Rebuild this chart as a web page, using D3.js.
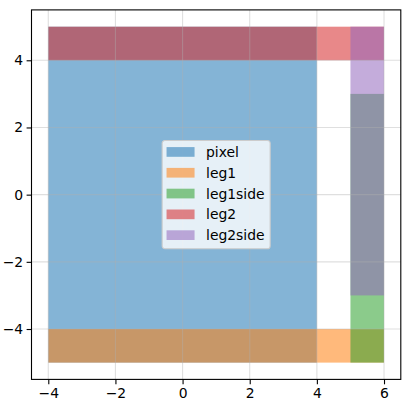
<!DOCTYPE html>
<html>
<head>
<meta charset="utf-8">
<script src="https://cdn.jsdelivr.net/npm/d3@7"></script>
<style>
  body { margin: 0; background: #fff; }
  text { font-family: "DejaVu Sans", sans-serif; }
</style>
</head>
<body>
<div id="chart"></div>
<script>
// rectangles, in data units
var labels = ["pixel", "leg1", "leg1side", "leg2", "leg2side"];
var x0s = [-4, -4, 5, -4, 5];
var x1s = [4, 6, 6, 6, 6];
var y0s = [-5, -5, -5, 4, -3];
var y1s = [5, -4, 3, 5, 5];
var colors = ["#1f77b4", "#ff7f0e", "#2ca02c", "#d62728", "#9467bd"];
var xTicks = [-4, -2, 0, 2, 4, 6];
var yTicks = [-4, -2, 0, 2, 4];

var w = 416, h = 410;
// plot area edges (window.top is reserved, so no bare "top")
var axLeft = 31.5, axRight = 400.8, axTop = 9.9, axBottom = 379.4;
var alpha = 0.55;

var svg = d3.select("#chart").append("svg")
    .attr("width", w)
    .attr("height", h);

var xScale = d3.scaleLinear().domain([-4.5, 6.5]).range([axLeft, axRight]);
var yScale = d3.scaleLinear().domain([-5.5, 5.5]).range([axBottom, axTop]);

var rects = labels.map(function(d, i) {
    return {label: d, x0: x0s[i], x1: x1s[i], y0: y0s[i], y1: y1s[i], color: colors[i]};
});

// patches
svg.append("g")
    .selectAll("rect")
    .data(rects)
    .enter()
    .append("rect")
    .attr("x", function(d) { return xScale(d.x0); })
    .attr("y", function(d) { return yScale(d.y1); })
    .attr("width", function(d) { return xScale(d.x1) - xScale(d.x0); })
    .attr("height", function(d) { return yScale(d.y0) - yScale(d.y1); })
    .attr("fill", function(d) { return d.color; })
    .attr("fill-opacity", alpha);

// grid sits above the patches (matplotlib default)
var fmt = function(d) { return d < 0 ? "\u2212" + Math.abs(d) : String(d); };

var xAxis = d3.axisBottom(xScale).tickValues(xTicks).tickSize(4.9).tickPadding(3.5).tickFormat(fmt);
var yAxis = d3.axisLeft(yScale).tickValues(yTicks).tickSize(4.9).tickPadding(3.5).tickFormat(fmt);

svg.append("g")
    .selectAll("line")
    .data(xTicks)
    .enter()
    .append("line")
    .attr("x1", xScale).attr("x2", xScale)
    .attr("y1", axTop).attr("y2", axBottom)
    .attr("stroke", "#b0b0b0").attr("stroke-opacity", 0.4).attr("stroke-width", 1.1);

svg.append("g")
    .selectAll("line")
    .data(yTicks)
    .enter()
    .append("line")
    .attr("y1", yScale).attr("y2", yScale)
    .attr("x1", axLeft).attr("x2", axRight)
    .attr("stroke", "#b0b0b0").attr("stroke-opacity", 0.4).attr("stroke-width", 1.1);

var gx = svg.append("g")
    .attr("transform", "translate(0," + axBottom + ")")
    .call(xAxis);
var gy = svg.append("g")
    .attr("transform", "translate(" + axLeft + ",0)")
    .call(yAxis);

[gx, gy].forEach(function(g) {
    g.select(".domain").remove();
    g.selectAll(".tick line").attr("stroke", "#000").attr("stroke-width", 1.1);
    g.selectAll(".tick text")
        .attr("fill", "#000")
        .attr("font-size", "13.9px")
        .attr("font-family", "DejaVu Sans, sans-serif");
});

// spines
svg.append("rect")
    .attr("x", axLeft).attr("y", axTop)
    .attr("width", axRight - axLeft).attr("height", axBottom - axTop)
    .attr("fill", "none").attr("stroke", "#000").attr("stroke-width", 1.1);

// legend, centred in the axes
var legW = 108, legH = 108.3, rowH = 20.8;
var cx = (axLeft + axRight) / 2, cy = (axTop + axBottom) / 2;
var legend = svg.append("g")
    .attr("transform", "translate(" + (cx - legW / 2) + "," + (cy - legH / 2) + ")");

legend.append("rect")
    .attr("width", legW).attr("height", legH)
    .attr("rx", 2.8).attr("ry", 2.8)
    .attr("fill", "#fff").attr("fill-opacity", 0.8)
    .attr("stroke", "#cccccc").attr("stroke-width", 1.1);

var items = legend.selectAll("g.item")
    .data(rects)
    .enter()
    .append("g")
    .attr("class", "item")
    .attr("transform", function(d, i) { return "translate(4.4," + (6.6 + i * rowH) + ")"; });

items.append("rect")
    .attr("width", 28).attr("height", 9.7)
    .attr("fill", function(d) { return d.color; })
    .attr("fill-opacity", alpha);

items.append("text")
    .attr("x", 39.5)
    .attr("y", 4.9)
    .attr("dy", "0.36em")
    .attr("font-size", "13.9px")
    .attr("fill", "#000")
    .text(function(d) { return d.label; });
</script>
</body>
</html>
